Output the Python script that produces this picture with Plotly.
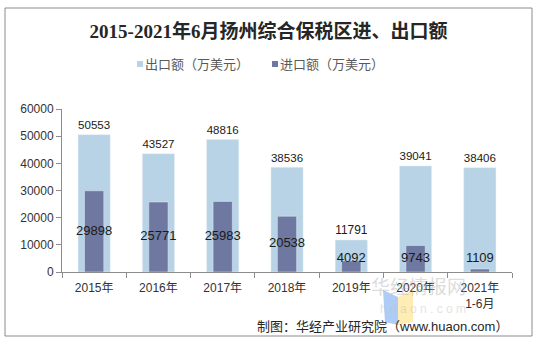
import plotly.graph_objects as go

categories = ["2015年", "2016年", "2017年", "2018年", "2019年", "2020年", "2021年<br>1-6月"]
exports = [50553, 43527, 48816, 38536, 11791, 39041, 38406]
imports = [29898, 25771, 25983, 20538, 4092, 9743, 1109]
y_ticks = [0, 10000, 20000, 30000, 40000, 50000, 60000]
series_names = ["出口额（万美元）", "进口额（万美元）"]

EXP_C = "#B7D3E5"
IMP_C = "#6F78A0"
FONT = "Liberation Sans, Arial, Noto Sans CJK SC"

fig = go.Figure()
fig.add_trace(go.Bar(
    x=categories, y=exports, name=series_names[0], marker_color=EXP_C, width=0.5,
    text=[str(v) for v in exports], textposition="outside", cliponaxis=False,
    textfont=dict(size=13, color="#1a1a1a", family=FONT), showlegend=False,
))
fig.add_trace(go.Bar(
    x=categories, y=imports, name=series_names[1], marker_color=IMP_C, width=0.3,
    showlegend=False,
))
# import labels: centered in bar, but kept above a minimum height
fig.add_trace(go.Scatter(
    x=categories, y=[max(v / 2, 4800) for v in imports], mode="text",
    text=[str(v) for v in imports], textposition="middle center",
    textfont=dict(size=13, color="#1a1a1a", family=FONT),
    showlegend=False, hoverinfo="skip", cliponaxis=False,
))

fig.update_layout(
    width=537, height=345, barmode="overlay",
    paper_bgcolor="white", plot_bgcolor="white",
    margin=dict(l=62, r=25, t=109, b=73),
    font=dict(family=FONT, color="#333333"),
    title=dict(text="<b>2015-2021年6月扬州综合保税区进、出口额</b>", x=0.5, xanchor="center",
               y=1 - 31 / 345, yanchor="middle",
               font=dict(size=19, family="Liberation Serif, Noto Sans CJK SC", color="#262626")),
    showlegend=False,
    xaxis=dict(showline=True, linecolor="#8c8c8c", linewidth=1, ticks="outside",
               tickson="boundaries", ticklen=5, tickcolor="#8c8c8c", ticklabelstandoff=5,
               tickfont=dict(size=12, color="#333333"), showgrid=False),
    yaxis=dict(range=[0, 60000], tickvals=y_ticks, tickformat="d", showline=True, linecolor="#8c8c8c",
               ticks="outside", ticklen=5, tickcolor="#8c8c8c", showgrid=False,
               tickfont=dict(size=12, color="#333333"), zeroline=False),
)

def px(x):
    return (x - 62) / 450
def py(y):
    return (272 - y) / 163

# outer border
fig.add_shape(type="rect", xref="paper", yref="paper", x0=px(5), x1=px(532),
              y0=py(336), y1=py(8), line=dict(color="#8c8c8c", width=1))

# legend (small squares + text)
for cx, col, name in [(137, EXP_C, series_names[0]), (272, IMP_C, series_names[1])]:
    fig.add_shape(type="rect", xref="paper", yref="paper", x0=px(cx), x1=px(cx + 6),
                  y0=py(67), y1=py(61), fillcolor=col, line=dict(width=0))
    fig.add_annotation(xref="paper", yref="paper", x=px(cx + 6), xanchor="left", y=py(64),
                       yanchor="middle", text=name, showarrow=False,
                       font=dict(size=13, color="#595959", family=FONT))

# watermark logo
fig.add_shape(type="path", xref="paper", yref="paper",
              path=f"M {px(383)} {py(290)} L {px(398)} {py(297)} L {px(398)} {py(325)} L {px(385)} {py(322)} Z",
              fillcolor="rgba(120,170,240,0.6)", line=dict(width=0), layer="below")
fig.add_shape(type="path", xref="paper", yref="paper",
              path=f"M {px(398)} {py(297)} L {px(413)} {py(290)} L {px(413)} {py(322)} L {px(398)} {py(325)} Z",
              fillcolor="rgba(255,225,130,0.6)", line=dict(width=0), layer="below")
fig.add_annotation(xref="paper", yref="paper", x=px(468), y=py(301), text="华经情报网", showarrow=False,
                   font=dict(size=19, color="rgba(175,175,175,0.45)", family="Noto Sans CJK SC"))
fig.add_annotation(xref="paper", yref="paper", x=px(468), y=py(318), text="h u a o n . c o m", showarrow=False,
                   font=dict(size=12, color="rgba(190,190,190,0.45)", family=FONT))

fig.add_annotation(xref="paper", yref="paper", x=px(510), xanchor="right", y=py(326), yanchor="middle",
                   text="制图：华经产业研究院（www.huaon.com）", showarrow=False,
                   font=dict(size=13, color="#262626", family=FONT))

fig.write_html("out.html")
